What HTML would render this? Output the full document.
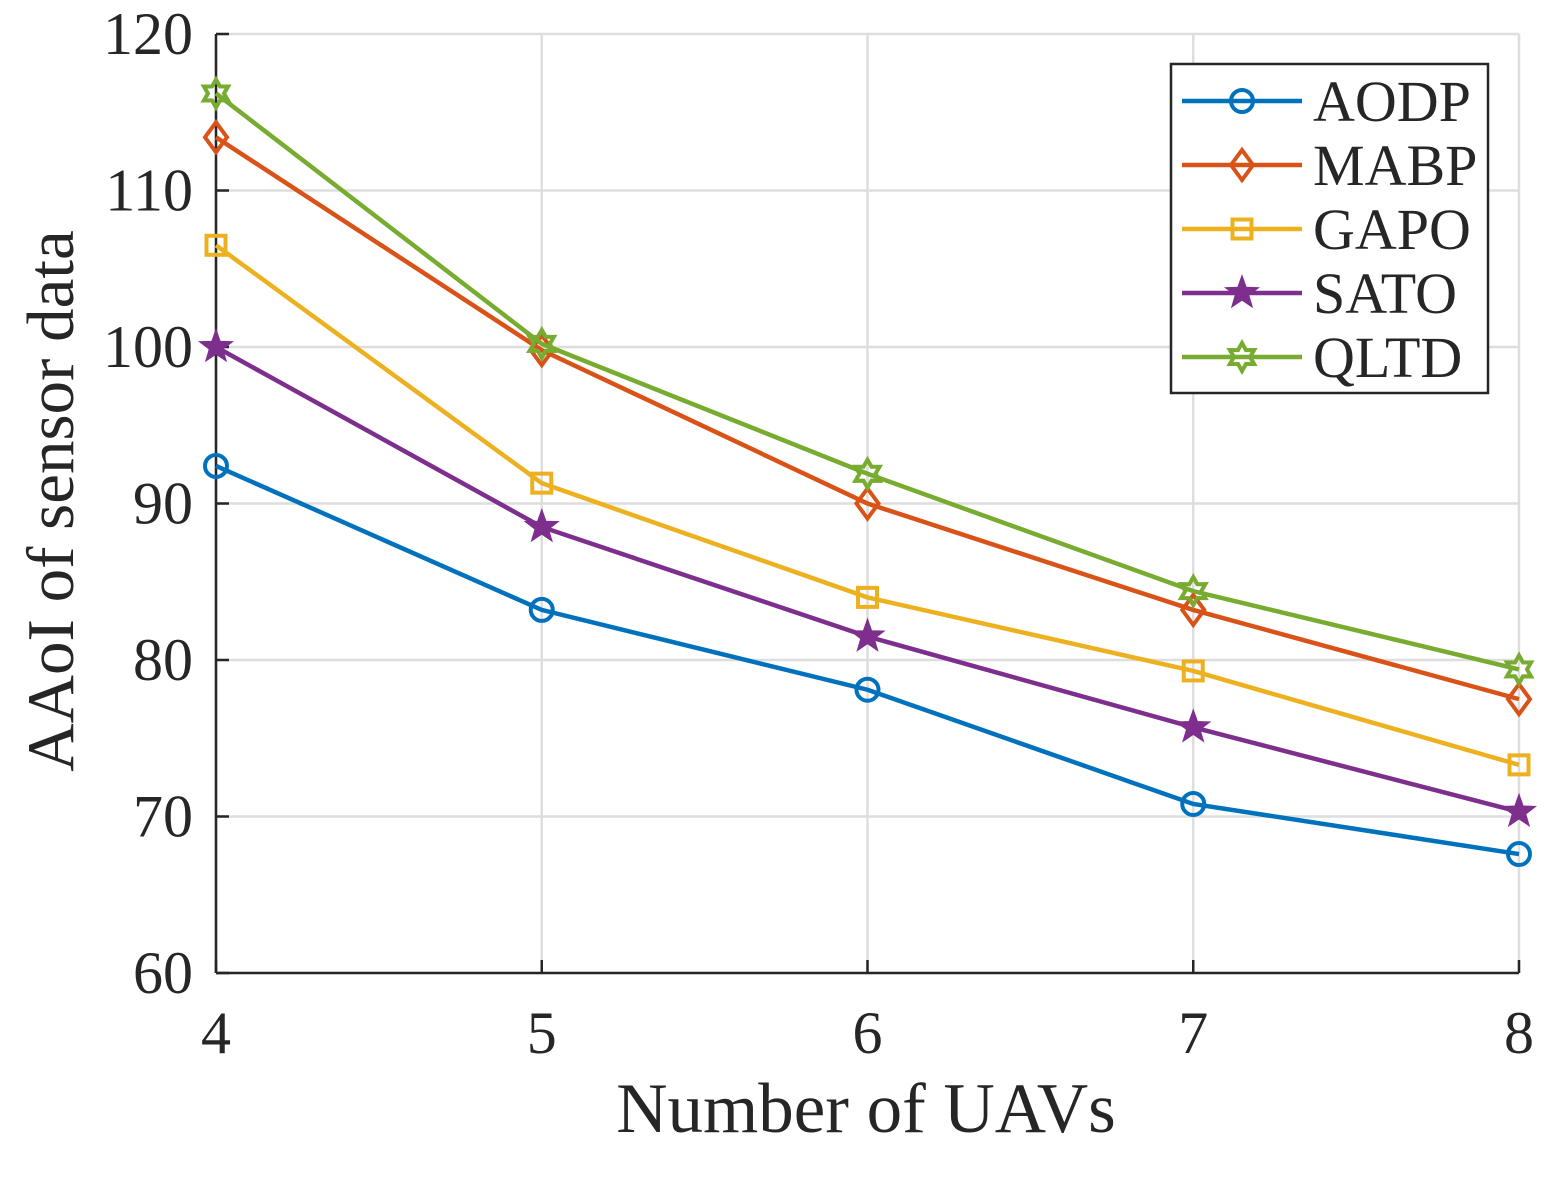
<!DOCTYPE html>
<html><head><meta charset="utf-8"><style>
body{margin:0;background:#fff}
svg text{font-family:"Liberation Serif",serif;fill:#262626}
</style></head><body>
<svg id="s" width="1550" height="1176" xmlns="http://www.w3.org/2000/svg">
<rect width="1550" height="1176" fill="#fff"/>
<g id="grid" stroke="#dedede" stroke-width="2.5"></g>
<g id="axes"></g>
<g id="series"></g>
<text x="866" y="1132" font-size="71" text-anchor="middle">Number of UAVs</text>
<text transform="translate(73,501) rotate(-90)" font-size="67" text-anchor="middle">AAoI of sensor data</text>
<rect x="1171" y="64" width="317" height="329" fill="#fff" stroke="#262626" stroke-width="2.5"/>
<g id="leg"></g>
</svg>
<script>
const NS="http://www.w3.org/2000/svg";
function el(p,t,a,txt){const e=document.createElementNS(NS,t);for(const k in a)e.setAttribute(k,a[k]);if(txt!==undefined)e.textContent=txt;p.appendChild(e);return e;}
const X=i=>216+i*325.75, Y=v=>973-(v-60)*15.65;
const grid=document.getElementById('grid'),axes=document.getElementById('axes'),ser=document.getElementById('series'),leg=document.getElementById('leg'),svg=document.getElementById('s');
for(let i=0;i<5;i++){el(grid,'line',{x1:X(i),x2:X(i),y1:34,y2:973});}
for(let v=60;v<=120;v+=10){el(grid,'line',{x1:216,x2:1519,y1:Y(v),y2:Y(v)});}
el(axes,'line',{x1:216,x2:1519,y1:973,y2:973,stroke:'#262626','stroke-width':2.5});
el(axes,'line',{x1:216,x2:216,y1:34,y2:973,stroke:'#262626','stroke-width':2.5});
for(let i=0;i<5;i++){el(axes,'line',{x1:X(i),x2:X(i),y1:973,y2:960,stroke:'#262626','stroke-width':2.5});
el(svg,'text',{x:X(i),y:1053,'font-size':60,'text-anchor':'middle'},String(4+i));}
for(let v=60;v<=120;v+=10){el(axes,'line',{x1:216,x2:229,y1:Y(v),y2:Y(v),stroke:'#262626','stroke-width':2.5});
el(svg,'text',{x:193,y:Y(v)+20,'font-size':60,'text-anchor':'end'},String(v));}
function star(cx,cy,n,R,r){let p=[];for(let k=0;k<2*n;k++){const a=-Math.PI/2+k*Math.PI/n,rr=k%2?r:R;p.push((cx+rr*Math.cos(a)).toFixed(1)+','+(cy+rr*Math.sin(a)).toFixed(1));}return p.join(' ');}
function marker(g,type,x,y,c){const sw=4;
if(type=='o')el(g,'circle',{cx:x,cy:y,r:11,fill:'none',stroke:c,'stroke-width':sw});
if(type=='d')el(g,'polygon',{points:`${x},${y-15} ${x+11},${y} ${x},${y+15} ${x-11},${y}`,fill:'none',stroke:c,'stroke-width':sw});
if(type=='s')el(g,'rect',{x:x-9.5,y:y-9.5,width:19,height:19,fill:'none',stroke:c,'stroke-width':sw});
if(type=='p')el(g,'polygon',{points:star(x,y,5,16,6.5),fill:c,stroke:c,'stroke-width':2});
if(type=='h')el(g,'polygon',{points:star(x,y,6,14,8),fill:'none',stroke:c,'stroke-width':sw});}
const S=[
['AODP','#0072BD','o',[92.4,83.2,78.1,70.8,67.6]],
['MABP','#D95319','d',[113.4,99.8,90,83.2,77.5]],
['GAPO','#EDB120','s',[106.5,91.3,84,79.3,73.3]],
['SATO','#7E2F8E','p',[100,88.5,81.5,75.7,70.3]],
['QLTD','#77AC30','h',[116.2,100.2,91.9,84.4,79.4]]];
const ly=[101,165,229,293,357];
S.forEach((s,j)=>{const pts=s[3].map((v,i)=>X(i)+','+Y(v)).join(' ');
el(ser,'polyline',{points:pts,fill:'none',stroke:s[1],'stroke-width':4.5});
s[3].forEach((v,i)=>marker(ser,s[2],X(i),Y(v),s[1]));
el(leg,'line',{x1:1182,x2:1302,y1:ly[j],y2:ly[j],stroke:s[1],'stroke-width':4.5});
marker(leg,s[2],1242,ly[j],s[1]);
el(leg,'text',{x:1313,y:ly[j]+20,'font-size':58,fill:'#000'},s[0]);});
</script>
</body></html>
